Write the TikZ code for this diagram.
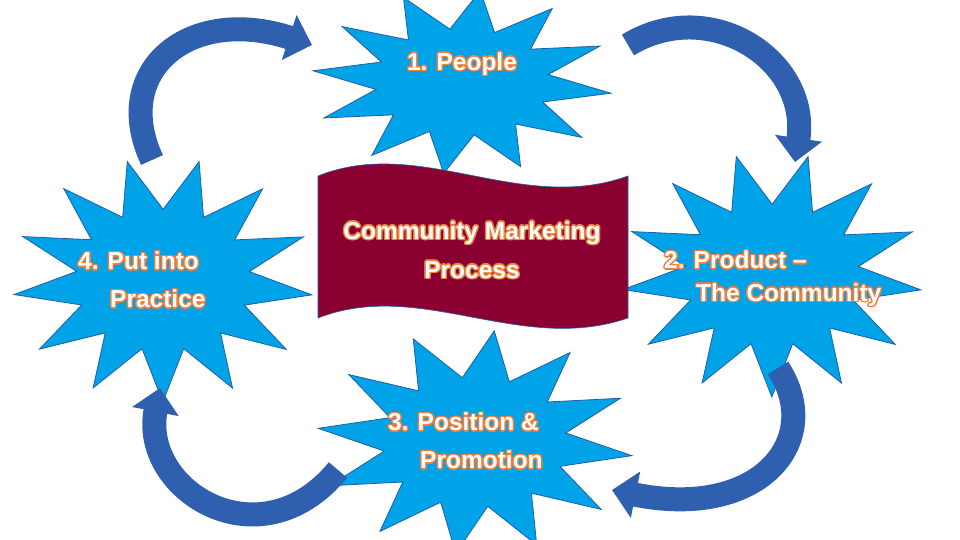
\documentclass[tikz,border=0pt]{standalone}
\usepackage{fontspec}
\setmainfont{Liberation Sans}
\usetikzlibrary{arrows.meta}
\definecolor{starblue}{HTML}{00A2E8}
\definecolor{starline}{HTML}{1F5FA8}
\definecolor{bannerred}{HTML}{8A0030}
\definecolor{arrowblue}{HTML}{2F5FAF}
\definecolor{glow}{HTML}{F07F3C}
\tikzset{
  star/.style={fill=starblue, draw=starline, line width=0.8pt},
  loop arrow/.style={arrowblue, line width=24pt, -{Triangle[length=24pt,width=46pt]}},
  label/.style={text=white, font=\fontsize{24.5}{32}\selectfont\bfseries, inner sep=0pt},
}
% white text with an orange rim: options, name, position, text
\newcommand{\glowlabel}[4]{%
  \foreach \dx/\dy in {1.5/0,-1.5/0,0/1.5,0/-1.5,1.1/1.1,-1.1/1.1,1.1/-1.1,-1.1/-1.1}
    \node[label, #1, text=glow, xshift=\dx pt, yshift=\dy pt] at (#3) {#4};
  \node[label, #1] (#2) at (#3) {#4};}
% spiky star around a centre: x radius, y radius, spikes
\newcommand{\burst}[5]{%
  \draw[star, shift={(#1,#2)}] plot[samples at={0,...,\numexpr2*#5-1\relax}]
    ({(mod(\x,2)==0 ? #3 : 0.58*#3)*cos(\x*180/#5+7)},
     {(mod(\x,2)==0 ? #4 : 0.58*#4)*sin(\x*180/#5+7)}) -- cycle;}
\begin{document}
\begin{tikzpicture}[x=1pt,y=-1pt]
  \useasboundingbox (0,0) rectangle (960,540);

  \burst{462}{82}{150}{92}{12}
  \burst{772}{275}{150}{122}{13}
  \burst{475}{442}{158}{112}{12}
  \burst{163}{280}{150}{122}{13}

  % banner
  \fill[bannerred, draw=starline, line width=0.6pt] (318,176) .. controls (420,135) and (520,215) .. (628,176)
    -- (628,318) .. controls (520,355) and (420,278) .. (318,318) -- cycle;

  % arrows
  \coordinate (a1) at (152,160); \coordinate (b1) at (312,45);
  \coordinate (a2) at (628,45);  \coordinate (b2) at (795,162);
  \coordinate (a3) at (778,368); \coordinate (b3) at (612,490);
  \coordinate (a4) at (338,470); \coordinate (b4) at (160,388);
  \draw[loop arrow] (a1) .. controls (110,70) and (190,5) .. (b1);
  \draw[loop arrow] (a2) .. controls (710,-5) and (810,60) .. (b2);
  \draw[loop arrow] (a3) .. controls (825,440) and (760,520) .. (b3);
  \draw[loop arrow] (a4) .. controls (260,565) and (140,490) .. (b4);

  \glowlabel{}{people}{462,64}{1. People}
  \glowlabel{}{community}{472,233}{Community Marketing}
  \glowlabel{}{process}{472,270}{Process}
  \glowlabel{anchor=west}{product}{664,260}{2. Product –}
  \glowlabel{anchor=west}{communitytwo}{696,295}{The Community}
  \glowlabel{anchor=west}{position}{388,422}{3. Position \&}
  \glowlabel{anchor=west}{promotion}{420,460}{Promotion}
  \glowlabel{anchor=west}{put}{78,261}{4. Put into}
  \glowlabel{anchor=west}{practice}{110,299}{Practice}
\end{tikzpicture}
\end{document}
